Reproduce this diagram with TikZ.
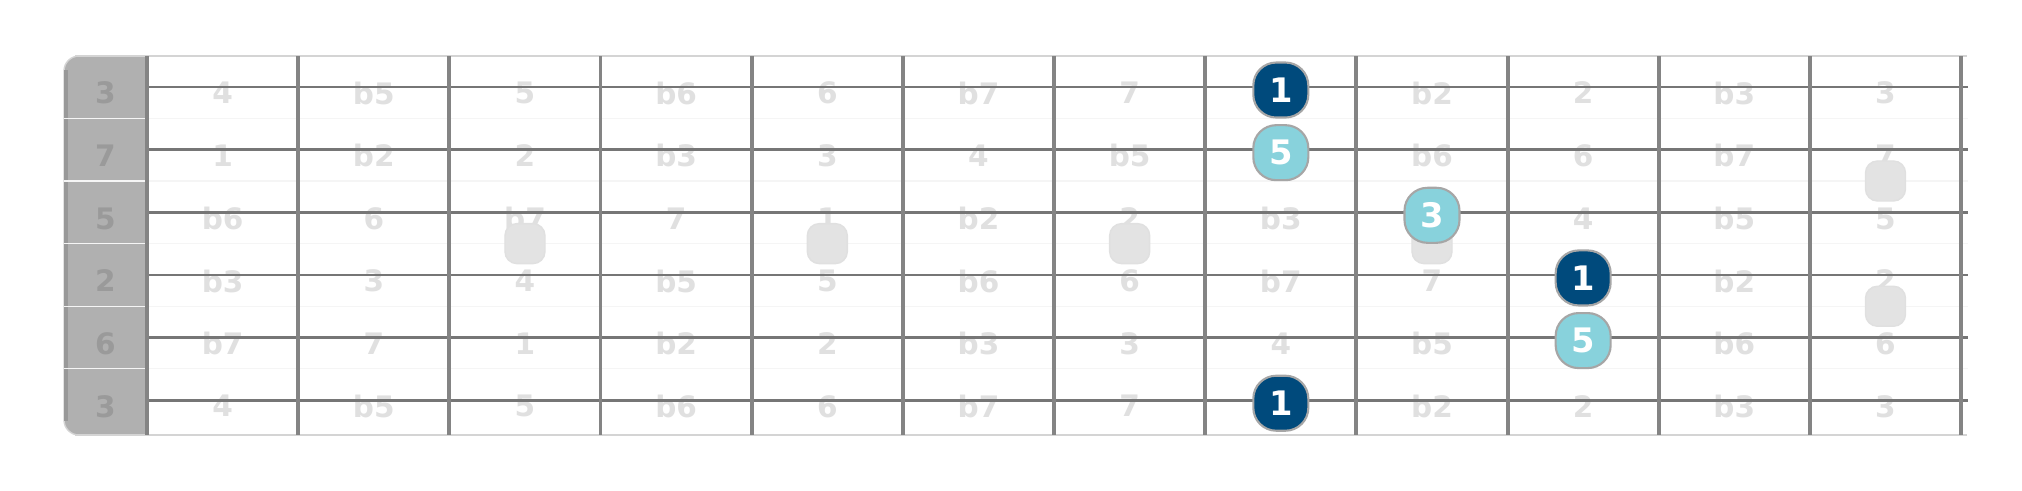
\documentclass[tikz,border=0pt]{standalone}
\usepackage{fontspec}
\setmainfont{DejaVu Sans}
\usepackage{tikz}
\usetikzlibrary{matrix}

\definecolor{lblgray}{HTML}{E0E0E0}
\definecolor{nutgray}{HTML}{B0B0B0}
\definecolor{nuttext}{HTML}{9A9A9A}
\definecolor{wiregray}{HTML}{767676}
\definecolor{rootblue}{HTML}{004A7C}
\definecolor{toneblue}{HTML}{88D2DC}
\definecolor{inlaygray}{HTML}{E3E3E3}
\definecolor{edgegray}{HTML}{D4D4D4}

\begin{document}
\begin{tikzpicture}[x=0.01cm, y=-0.01cm,
  lbl/.style={anchor=center, text depth=0pt, inner sep=0pt, outer sep=0pt, minimum width=1.5108cm, minimum height=0.626cm, font=\fontsize{8.4}{9}\selectfont\bfseries, text=lblgray},
  nutlbl/.style={minimum width=0.83cm, text=nuttext},
  wire/.style={draw=wiregray, line width=0.8pt},
  fretline/.style={draw=wiregray!90, line width=1.1pt},
  sepline/.style={draw=black!4, line width=0.3pt},
  inlay/.style={draw=black!12, fill=inlaygray, line width=0.4pt, rounded corners=0.12cm, minimum size=0.4cm, inner sep=0pt},
  note/.style={draw=black!35, line width=0.6pt, rounded corners=0.23cm, minimum size=0.55cm, inner sep=0pt, text=white, font=\fontsize{9.6}{10}\selectfont\bfseries, text depth=0pt},
  root/.style={note, fill=rootblue},
  tone/.style={note, fill=toneblue}]
\useasboundingbox (0,0) rectangle (2022,490);

% board and nut
\filldraw[fill=nutgray, draw=edgegray, rounded corners=0.15cm] (64,56) rectangle (170,435);
\fill[white] (147,56) rectangle (1967,435);
\draw[edgegray, line width=0.5pt] (75,56) -- (1967,56);
\draw[edgegray, line width=0.5pt] (75,435) -- (1967,435);
\draw[black!40, line width=1.2pt] (66,70) -- (66,421);
\coordinate (top) at (0,56);
\coordinate (bot) at (0,435);

\matrix (m) [matrix of nodes, anchor=north west, inner sep=0pt, outer sep=0pt, column sep=0pt, row sep=0pt,
  nodes={lbl}, column 1/.style={nodes={nutlbl}}] at (64,61.7) {
3 & 4 & b5 & 5 & b6 & 6 & b7 & 7 & 1 & b2 & 2 & b3 & 3\\
7 & 1 & b2 & 2 & b3 & 3 & 4 & b5 & 5 & b6 & 6 & b7 & 7\\
5 & b6 & 6 & b7 & 7 & 1 & b2 & 2 & b3 & 3 & 4 & b5 & 5\\
2 & b3 & 3 & 4 & b5 & 5 & b6 & 6 & b7 & 7 & 1 & b2 & 2\\
6 & b7 & 7 & 1 & b2 & 2 & b3 & 3 & 4 & b5 & 5 & b6 & 6\\
3 & 4 & b5 & 5 & b6 & 6 & b7 & 7 & 1 & b2 & 2 & b3 & 3\\
};

% separators between strings
\draw[sepline] ([yshift=0.06cm]m-1-1.south west) -- ([yshift=0.06cm,xshift=0.07cm]m-1-13.south east);
\draw[sepline] ([yshift=0.06cm]m-2-1.south west) -- ([yshift=0.06cm,xshift=0.07cm]m-2-13.south east);
\draw[sepline] ([yshift=0.06cm]m-3-1.south west) -- ([yshift=0.06cm,xshift=0.07cm]m-3-13.south east);
\draw[sepline] ([yshift=0.06cm]m-4-1.south west) -- ([yshift=0.06cm,xshift=0.07cm]m-4-13.south east);
\draw[sepline] ([yshift=0.06cm]m-5-1.south west) -- ([yshift=0.06cm,xshift=0.07cm]m-5-13.south east);

% strings
\draw[wire] ([yshift=0.06cm]m-1-1.east) -- ([yshift=0.06cm,xshift=0.07cm]m-1-13.east);
\draw[wire] ([yshift=0.06cm]m-2-1.east) -- ([yshift=0.06cm,xshift=0.07cm]m-2-13.east);
\draw[wire] ([yshift=0.06cm]m-3-1.east) -- ([yshift=0.06cm,xshift=0.07cm]m-3-13.east);
\draw[wire] ([yshift=0.06cm]m-4-1.east) -- ([yshift=0.06cm,xshift=0.07cm]m-4-13.east);
\draw[wire] ([yshift=0.06cm]m-5-1.east) -- ([yshift=0.06cm,xshift=0.07cm]m-5-13.east);
\draw[wire] ([yshift=0.06cm]m-6-1.east) -- ([yshift=0.06cm,xshift=0.07cm]m-6-13.east);

% frets
\draw[fretline] (m-1-1.east |- top) -- (m-1-1.east |- bot);
\draw[fretline] (m-1-2.east |- top) -- (m-1-2.east |- bot);
\draw[fretline] (m-1-3.east |- top) -- (m-1-3.east |- bot);
\draw[fretline] (m-1-4.east |- top) -- (m-1-4.east |- bot);
\draw[fretline] (m-1-5.east |- top) -- (m-1-5.east |- bot);
\draw[fretline] (m-1-6.east |- top) -- (m-1-6.east |- bot);
\draw[fretline] (m-1-7.east |- top) -- (m-1-7.east |- bot);
\draw[fretline] (m-1-8.east |- top) -- (m-1-8.east |- bot);
\draw[fretline] (m-1-9.east |- top) -- (m-1-9.east |- bot);
\draw[fretline] (m-1-10.east |- top) -- (m-1-10.east |- bot);
\draw[fretline] (m-1-11.east |- top) -- (m-1-11.east |- bot);
\draw[fretline] (m-1-12.east |- top) -- (m-1-12.east |- bot);
\draw[fretline] (m-1-13.east |- top) -- (m-1-13.east |- bot);

% inlays
\node[inlay] (in3) at ([yshift=0.06cm]m-3-4.south) {};
\node[inlay] (in5) at ([yshift=0.06cm]m-3-6.south) {};
\node[inlay] (in7) at ([yshift=0.06cm]m-3-8.south) {};
\node[inlay] (in9) at ([yshift=0.06cm]m-3-10.south) {};
\node[inlay] (in12a) at ([yshift=0.06cm]m-2-13.south) {};
\node[inlay] (in12b) at ([yshift=0.06cm]m-4-13.south) {};

% chord tones
\node[root] (r1) at ([yshift=0.03cm]m-1-9.center) {1};
\node[tone] (f2) at ([yshift=0.03cm]m-2-9.center) {5};
\node[tone] (t3) at ([yshift=0.03cm]m-3-10.center) {3};
\node[root] (r4) at ([yshift=0.03cm]m-4-11.center) {1};
\node[tone] (f5) at ([yshift=0.03cm]m-5-11.center) {5};
\node[root] (r6) at ([yshift=0.03cm]m-6-9.center) {1};
\end{tikzpicture}
\end{document}
